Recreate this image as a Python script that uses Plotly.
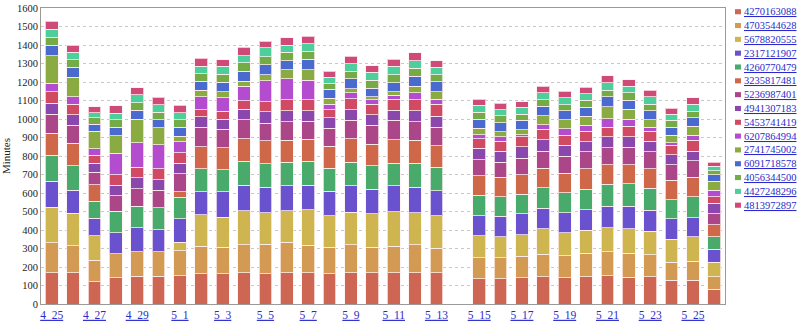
import plotly.graph_objects as go

# Dates (month, day); 5/14 has no data
dates = ["4/25", "4/26", "4/27", "4/28", "4/29", "4/30", "5/1", "5/2", "5/3", "5/4", "5/5",
         "5/6", "5/7", "5/8", "5/9", "5/10", "5/11", "5/12", "5/13", "5/14", "5/15", "5/16",
         "5/17", "5/18", "5/19", "5/20", "5/21", "5/22", "5/23", "5/24", "5/25", "5/26"]

# Labelled every other day
tick_dates = dates[::2]
tick_labels = [d.replace("/", "\u00a0\u00a0") for d in tick_dates]

series_ids = ["4270163088", "4703544628", "5678820555", "2317121907", "4260770479",
              "3235817481", "5236987401", "4941307183", "5453741419", "6207864994",
              "2741745002", "6091718578", "4056344500", "4427248296", "4813972897"]

series_colors = ["#cd6652", "#d29a52", "#cfb550", "#6a52cf", "#48ab6c",
                 "#cf6848", "#ab4688", "#8a48ad", "#cf4a62", "#b44ccf",
                 "#8aab42", "#4a6acf", "#74ab46", "#4ccf9a", "#cf4a78"]

# Minutes per day, one list per series (bottom of the stack first)
m4270163088 = [170, 168, 120, 142, 150, 150, 152, 163, 163, 168, 163, 168, 168, 163, 168, 168,
               168, 168, 168, None, 136, 136, 142, 147, 142, 147, 154, 145, 147, 128, 128, 80]
m4703544628 = [162, 147, 116, 129, 133, 132, 135, 150, 143, 151, 161, 165, 149, 143, 151, 138,
               145, 151, 133, None, 115, 115, 115, 122, 120, 127, 129, 129, 119, 99, 102, 67]
m5678820555 = [190, 175, 134, 0, 0, 0, 46, 169, 163, 184, 168, 172, 193, 170, 177, 181,
               186, 173, 177, None, 119, 112, 118, 138, 124, 124, 130, 133, 127, 122, 133, 78]
m2317121907 = [142, 124, 93, 113, 128, 120, 127, 124, 137, 138, 140, 133, 133, 133, 142, 133,
               139, 140, 133, None, 108, 112, 112, 110, 106, 112, 115, 121, 115, 111, 103, 71]
m4260770479 = [140, 133, 93, 117, 117, 117, 116, 125, 120, 131, 126, 129, 129, 124, 129, 127,
               123, 129, 127, None, 110, 106, 106, 112, 110, 110, 118, 122, 117, 103, 115, 67]
m3235817481 = [119, 121, 88, 0, 0, 0, 31, 119, 119, 122, 124, 118, 119, 119, 127, 117,
               128, 123, 117, None, 106, 104, 106, 106, 106, 110, 107, 103, 105, 105, 104, 66]
m5236987401 = [103, 97, 69, 83, 95, 97, 97, 106, 99, 101, 96, 101, 97, 97, 98, 101,
               103, 102, 100, None, 85, 82, 89, 92, 92, 93, 92, 93, 93, 85, 89, 58]
m4941307183 = [60, 59, 47, 59, 59, 56, 56, 57, 56, 59, 61, 59, 57, 57, 58, 57,
               56, 59, 61, None, 62, 60, 62, 62, 59, 54, 58, 57, 57, 53, 53, 58]
m5453741419 = [60, 56, 43, 57, 58, 60, 57, 37, 41, 44, 54, 58, 58, 45, 60, 58,
               59, 58, 64, None, 53, 53, 53, 55, 53, 58, 53, 59, 53, 53, 58, 36]
m6207864994 = [47, 41, 37, 115, 131, 130, 60, 71, 75, 80, 115, 115, 106, 30, 32, 23,
               21, 39, 27, None, 21, 23, 13, 26, 35, 30, 45, 38, 23, 14, 27, 35]
m2741745002 = [148, 104, 93, 94, 129, 90, 31, 34, 30, 26, 32, 48, 57, 30, 21, 18,
               20, 36, 39, None, 36, 27, 26, 48, 50, 50, 65, 54, 41, 39, 48, 48]
m6091718578 = [57, 54, 38, 47, 46, 45, 48, 49, 53, 53, 53, 50, 57, 50, 54, 44,
               47, 53, 55, None, 49, 49, 50, 50, 48, 48, 53, 47, 48, 44, 46, 35]
m4056344500 = [45, 40, 35, 41, 43, 40, 40, 41, 44, 48, 44, 44, 44, 33, 40, 44,
               45, 44, 39, None, 36, 39, 35, 35, 32, 38, 37, 41, 35, 36, 35, 22]
m4427248296 = [42, 41, 29, 35, 42, 40, 38, 39, 41, 37, 48, 39, 41, 33, 41, 43,
               44, 41, 39, None, 39, 32, 36, 39, 39, 36, 39, 36, 41, 35, 39, 23]
m4813972897 = [44, 39, 30, 39, 38, 40, 40, 44, 35, 45, 35, 39, 39, 32, 42, 37,
               39, 42, 37, None, 32, 36, 31, 36, 35, 35, 39, 35, 34, 30, 36, 23]

series_values = [m4270163088, m4703544628, m5678820555, m2317121907, m4260770479,
                 m3235817481, m5236987401, m4941307183, m5453741419, m6207864994,
                 m2741745002, m6091718578, m4056344500, m4427248296, m4813972897]

SERIF = "Liberation Serif, Times New Roman, serif"
LINK = "#2a2acc"

fig = go.Figure()
for sid, color, vals in zip(series_ids, series_colors, series_values):
    fig.add_trace(go.Bar(
        x=dates, y=vals, name=sid, showlegend=False,
        marker=dict(color=color, line=dict(color="rgba(255,240,240,0.75)", width=1)),
    ))

# Plot-area geometry in pixels, used to place the side key
W, H = 800, 324
L, R, T, B = 39, 75, 3, 19
pw, ph = W - L - R, H - T - B


def px_x(x):
    return (x - L) / pw


def px_y(y):
    return (H - B - y) / ph


shapes = []
annotations = []
for i, (sid, color) in enumerate(zip(series_ids, series_colors)):
    cy = 6.8 + 14.1 * i
    shapes.append(dict(type="rect", xref="paper", yref="paper",
                       x0=px_x(735), x1=px_x(741), y0=px_y(cy + 2.6), y1=px_y(cy - 2.6),
                       fillcolor=color, line=dict(width=0)))
    annotations.append(dict(xref="paper", yref="paper", x=px_x(742.5), y=px_y(cy),
                            xanchor="left", yanchor="middle", showarrow=False,
                            text="<u>" + sid + "</u>",
                            font=dict(family=SERIF, size=10.5, color=LINK)))

fig.update_layout(
    width=W, height=H,
    margin=dict(l=L, r=R, t=T, b=B, pad=0),
    barmode="stack", bargap=0.4,
    plot_bgcolor="white", paper_bgcolor="white",
    font=dict(family=SERIF, size=11, color="#222"),
    shapes=shapes, annotations=annotations,
    xaxis=dict(
        type="category", categoryorder="array", categoryarray=dates,
        tickmode="array", tickvals=tick_dates,
        ticktext=["<u>" + t + "</u>" for t in tick_labels],
        tickfont=dict(family=SERIF, size=11.5, color=LINK),
        showgrid=False, showline=True, linecolor="#9a9a9a", linewidth=1, mirror=True,
        ticks="", tickangle=0,
    ),
    yaxis=dict(
        range=[0, 1600], dtick=100, tick0=0,
        title=dict(text="Minutes", font=dict(family=SERIF, size=11), standoff=6),
        tickfont=dict(family=SERIF, size=10.5, color="#222"),
        ticklabeloverflow="allow",
        showgrid=True, gridcolor="#c8c8c8", griddash="dot", gridwidth=1,
        showline=True, linecolor="#9a9a9a", linewidth=1, mirror=True,
        ticks="", zeroline=False,
    ),
)

fig.write_html("out.html")
